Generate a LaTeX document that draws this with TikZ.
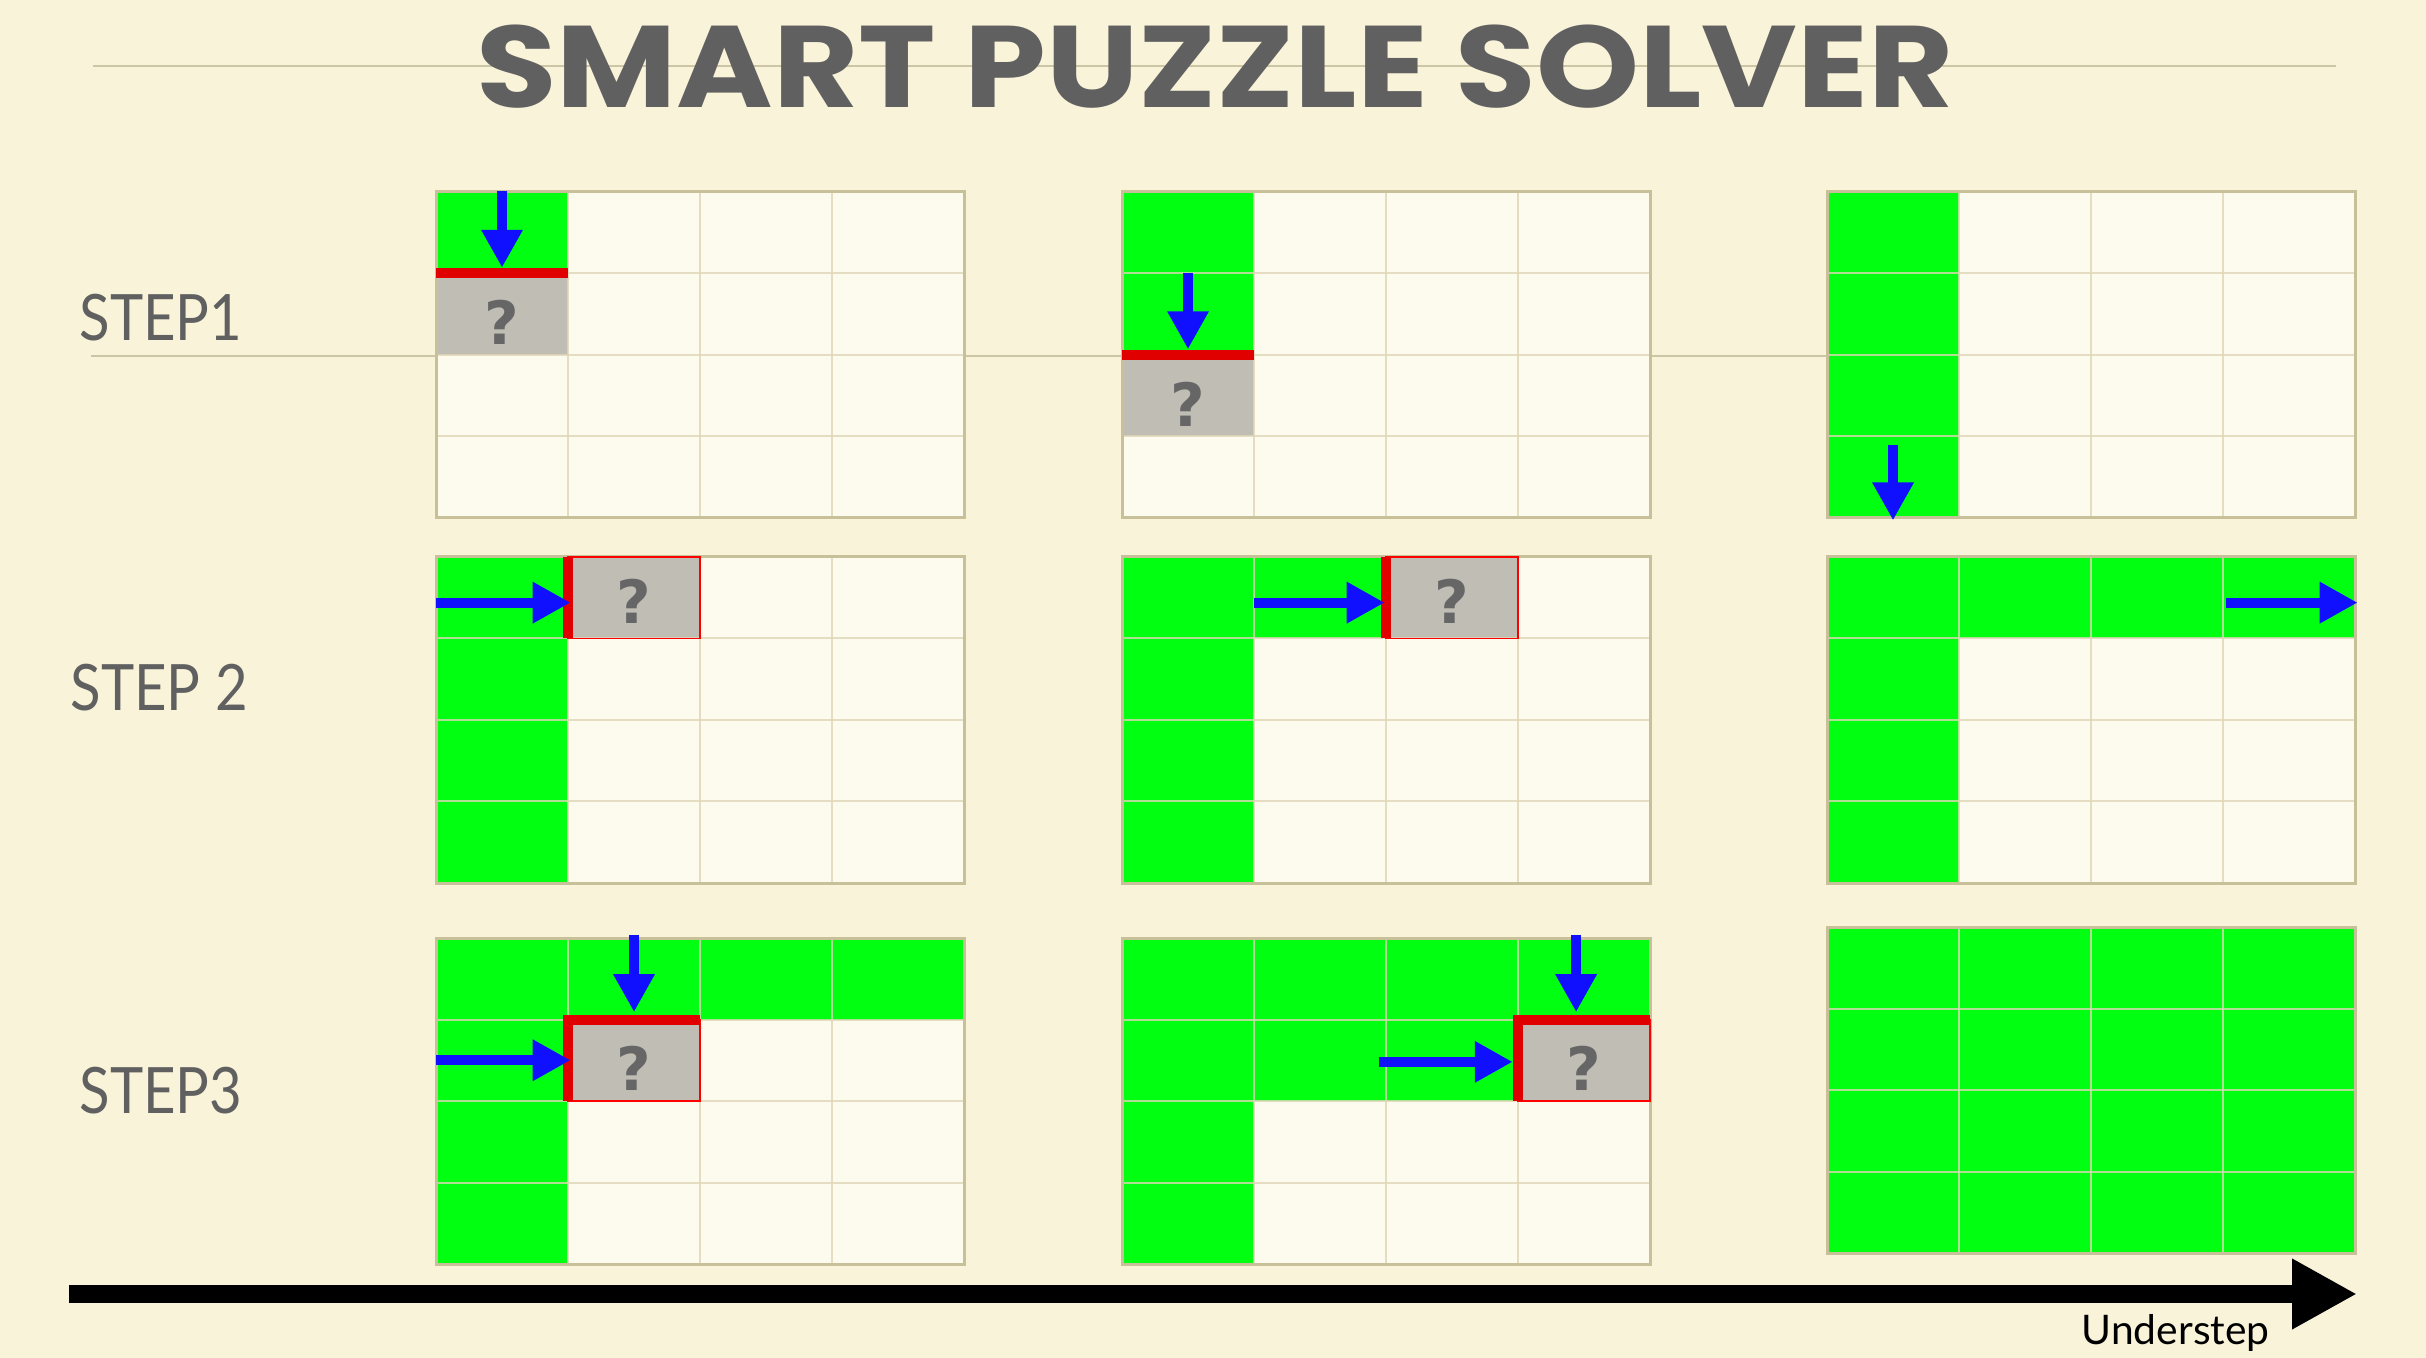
\documentclass[tikz,border=0pt]{standalone}
\usepackage{fontspec}
\setmainfont{Lato}
\newfontfamily\titlefont{Poppins}
\newfontfamily\qfont{DejaVu Sans}
\usetikzlibrary{arrows.meta}
\definecolor{paper}{RGB}{249,243,217}
\definecolor{cellcream}{RGB}{253,250,238}
\definecolor{puzzlegreen}{RGB}{0,255,16}
\definecolor{puzzlegray}{RGB}{192,189,181}
\definecolor{barred}{RGB}{225,0,0}
\definecolor{pushblue}{RGB}{16,16,255}
\definecolor{gridtan}{RGB}{222,214,182}
\definecolor{frametan}{RGB}{200,192,152}
\definecolor{guidetan}{RGB}{205,198,165}
\definecolor{labelgray}{RGB}{96,96,96}
\definecolor{qgray}{RGB}{102,102,102}

% inner lines and frame of one 4x4 board
\newcommand{\boardlines}{%
  \foreach \i in {1,2,3} {
    \draw[gridline] (\i,0) -- (\i,4);
    \draw[gridline] (0,\i) -- (4,\i);
  }
  \draw[gridframe] (0,0) rectangle (4,4);
}

\tikzset{
  board/.style={x=1.32cm, y=-0.815cm},
  greencell/.style={fill=puzzlegreen},
  graycell/.style={fill=puzzlegray},
  gridline/.style={draw=gridtan, line width=0.02cm, opacity=0.8},
  gridframe/.style={draw=frametan, line width=0.03cm},
  redframe/.style={draw=red, line width=0.012cm},
  edgebar/.style={draw=barred, line width=0.1cm},
  pusharrow/.style={draw=pushblue, line width=0.1cm, -{Triangle[length=0.38cm,width=0.39cm]}},
  qmark/.style={font=\qfont\bfseries\fontsize{17pt}{18pt}\selectfont, text=qgray, inner sep=0pt},
  steplabel/.style={font=\fontsize{18.2pt}{20pt}\selectfont, text=labelgray, inner sep=0pt, anchor=west, xscale=0.88, transform shape},
  timeline/.style={draw=black, line width=0.18cm, -{Triangle[length=0.65cm,width=0.66cm]}}
}

\begin{document}
\begin{tikzpicture}[x=1cm, y=-1cm]
  \fill[paper] (0,0) rectangle (24.26,13.58);
  \useasboundingbox (0,0) rectangle (24.26,13.58);

  % guide lines of the slide
  \draw[guidetan, line width=0.02cm] (0.93,0.66) -- (23.36,0.66);
  \draw[guidetan, line width=0.02cm] (0.91,3.56) -- (18.27,3.56);

  \node (title) at (12.15,0.67) [font=\titlefont\bfseries\fontsize{33pt}{35pt}\selectfont, text=labelgray, inner sep=0pt, xscale=1.13, transform shape] {SMART PUZZLE SOLVER};

  \node (step1) at (0.79,3.18) [steplabel] {STEP1};
  \node (step2) at (0.70,6.88) [steplabel] {STEP 2};
  \node (step3) at (0.79,10.91) [steplabel] {STEP3};

  % step 1, first
  \begin{scope}[shift={(4.36,1.92)}, board]
    \fill[cellcream] (0,0) rectangle (4,4);
    \fill[greencell] (0,0) rectangle (1,1);
    \fill[graycell] (0,1) rectangle (1,2);
    \boardlines
    \draw[edgebar] (0,1) -- (1,1);
    \coordinate (g1from) at (0.5,-0.01); \coordinate (g1to) at (0.5,0.93);
    \draw[pusharrow] (g1from) -- (g1to);
    \node (q1) at (0.5,1.6) [qmark] {?};
  \end{scope}

  % step 1, second
  \begin{scope}[shift={(11.22,1.92)}, board]
    \fill[cellcream] (0,0) rectangle (4,4);
    \fill[greencell] (0,0) rectangle (1,2);
    \fill[graycell] (0,2) rectangle (1,3);
    \boardlines
    \draw[edgebar] (0,2) -- (1,2);
    \coordinate (g2from) at (0.5,1.0); \coordinate (g2to) at (0.5,1.93);
    \draw[pusharrow] (g2from) -- (g2to);
    \node (q2) at (0.5,2.6) [qmark] {?};
  \end{scope}

  % step 1, done
  \begin{scope}[shift={(18.27,1.92)}, board]
    \fill[cellcream] (0,0) rectangle (4,4);
    \fill[greencell] (0,0) rectangle (1,4);
    \boardlines
    \coordinate (g3from) at (0.5,3.1); \coordinate (g3to) at (0.5,4.03);
    \draw[pusharrow] (g3from) -- (g3to);
  \end{scope}

  % step 2, first
  \begin{scope}[shift={(4.36,5.57)}, board]
    \fill[cellcream] (0,0) rectangle (4,4);
    \fill[greencell] (0,0) rectangle (1,4);
    \fill[graycell] (1,0) rectangle (2,1);
    \boardlines
    \draw[redframe] (1,0) rectangle (2,1);
    \draw[edgebar] (1,0) -- (1,1);
    \coordinate (g4from) at (0,0.56); \coordinate (g4to) at (1.02,0.56);
    \draw[pusharrow] (g4from) -- (g4to);
    \node (q4) at (1.5,0.55) [qmark] {?};
  \end{scope}

  % step 2, second
  \begin{scope}[shift={(11.22,5.57)}, board]
    \fill[cellcream] (0,0) rectangle (4,4);
    \fill[greencell] (0,0) rectangle (1,4);
    \fill[greencell] (1,0) rectangle (2,1);
    \fill[graycell] (2,0) rectangle (3,1);
    \boardlines
    \draw[redframe] (2,0) rectangle (3,1);
    \draw[edgebar] (2,0) -- (2,1);
    \coordinate (g5from) at (1,0.56); \coordinate (g5to) at (1.99,0.56);
    \draw[pusharrow] (g5from) -- (g5to);
    \node (q5) at (2.5,0.55) [qmark] {?};
  \end{scope}

  % step 2, done
  \begin{scope}[shift={(18.27,5.57)}, board]
    \fill[cellcream] (0,0) rectangle (4,4);
    \fill[greencell] (0,0) rectangle (4,1);
    \fill[greencell] (0,0) rectangle (1,4);
    \boardlines
    \coordinate (g6from) at (3.02,0.56); \coordinate (g6to) at (4.02,0.56);
    \draw[pusharrow] (g6from) -- (g6to);
  \end{scope}

  % step 3, first
  \begin{scope}[shift={(4.36,9.38)}, board]
    \fill[cellcream] (0,0) rectangle (4,4);
    \fill[greencell] (0,0) rectangle (4,1);
    \fill[greencell] (0,0) rectangle (1,4);
    \fill[graycell] (1,1) rectangle (2,2);
    \boardlines
    \draw[redframe] (1,1) rectangle (2,2);
    \draw[edgebar] (2,1) -- (1,1) -- (1,2);
    \coordinate (g7top) at (1.5,-0.04); \coordinate (g7down) at (1.5,0.91);
    \draw[pusharrow] (g7top) -- (g7down);
    \coordinate (g7left) at (0,1.5); \coordinate (g7right) at (1.02,1.5);
    \draw[pusharrow] (g7left) -- (g7right);
    \node (q7) at (1.5,1.6) [qmark] {?};
  \end{scope}

  % step 3, second
  \begin{scope}[shift={(11.22,9.38)}, board]
    \fill[cellcream] (0,0) rectangle (4,4);
    \fill[greencell] (0,0) rectangle (4,1);
    \fill[greencell] (0,0) rectangle (1,4);
    \fill[greencell] (0,1) rectangle (3,2);
    \fill[graycell] (3,1) rectangle (4,2);
    \boardlines
    \draw[redframe] (3,1) rectangle (4,2);
    \draw[edgebar] (4,1) -- (3,1) -- (3,2);
    \coordinate (g8top) at (3.44,-0.04); \coordinate (g8down) at (3.44,0.91);
    \draw[pusharrow] (g8top) -- (g8down);
    \coordinate (g8left) at (1.95,1.52); \coordinate (g8right) at (2.96,1.52);
    \draw[pusharrow] (g8left) -- (g8right);
    \node (q8) at (3.5,1.6) [qmark] {?};
  \end{scope}

  % step 3, done
  \begin{scope}[shift={(18.27,9.27)}, board]
    \fill[greencell] (0,0) rectangle (4,4);
    \boardlines
  \end{scope}

  % time axis
  \coordinate (tlstart) at (0.69,12.94);
  \coordinate (tlend) at (23.57,12.94);
  \draw[timeline] (tlstart) -- (tlend);
  \node (understep) at (20.81,13.44) [anchor=base west, inner sep=0pt, font=\fontsize{11.6pt}{13pt}\selectfont] {Understep};
\end{tikzpicture}
\end{document}
